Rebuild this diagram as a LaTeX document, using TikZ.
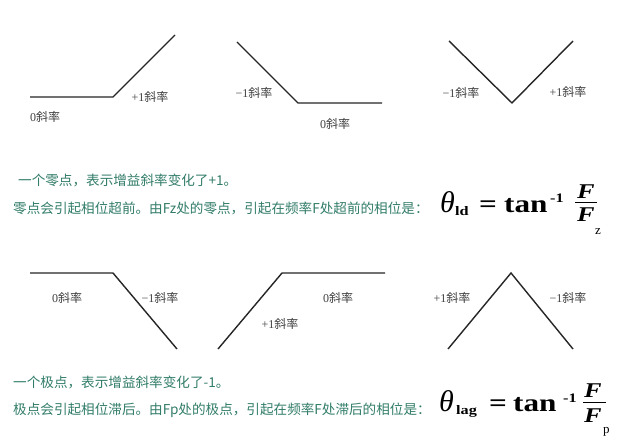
\documentclass[tikz,border=0pt]{standalone}
\usepackage{fontspec}
\setmainfont{Liberation Serif}
\newfontfamily\cjk{Noto Sans CJK SC}
\newfontfamily\eqfont[FakeStretch=1.25]{Liberation Serif}
\definecolor{noteteal}{RGB}{50,125,105}
\newcommand\xl[1]{#1{\cjk 斜率}}
\tikzset{
  curve/.style={line width=1.4pt, black!85},
  slope/.style={font=\fontsize{12}{12}\selectfont, text=black!75, inner sep=0pt},
  note/.style={font=\cjk\fontsize{13.6}{13.6}\selectfont, text=noteteal, anchor=west, inner sep=0pt},
  eqpart/.style={font=\eqfont\bfseries\fontsize{25}{25}\selectfont, anchor=base west, inner sep=0pt},
  eqsmall/.style={font=\eqfont\bfseries\fontsize{13}{13}\selectfont, anchor=base west, inner sep=0pt},
  greek/.style={font=\itshape\fontsize{30}{30}\selectfont, anchor=base west, inner sep=0pt},
  frac/.style={font=\eqfont\bfseries\itshape\fontsize{21}{21}\selectfont, anchor=base west, inner sep=0pt},
  fracsub/.style={font=\fontsize{13}{13}\selectfont, anchor=base west, inner sep=0pt}
}
\begin{document}
\begin{tikzpicture}[x=1pt,y=-1pt]
  \useasboundingbox[fill=white] (0,0) rectangle (640,443);
  % zero: slope goes up by one
  \draw[curve] (30,97) -- (113,97) -- (175,35);
  \node[slope] (z1a) at (45,117) {\xl{0}};
  \node[slope] (z1b) at (150,97) {\xl{+1}};
  \draw[curve] (237,42) -- (298,103) -- (382,103);
  \node[slope] (z2a) at (254,93) {\xl{−1}};
  \node[slope] (z2b) at (335,124) {\xl{0}};
  \draw[curve] (449,41) -- (512,103) -- (573,41);
  \node[slope] (z3a) at (461,93) {\xl{−1}};
  \node[slope] (z3b) at (568,92) {\xl{+1}};
  % zero notes
  \node[note] (zn1) at (18,180) {一个零点，表示增益斜率变化了+1。};
  \node[note] (zn2) at (13,208) {零点会引起相位超前。由Fz处的零点，引起在频率F处超前的相位是：};
  \node[greek] (th1) at (440,213) {θ};
  \node[eqsmall] (ld) at (455,216) {ld};
  \node[eqpart] (eq1) at (479,213) {=};
  \node[eqpart] (tan1) at (504,213) {tan};
  \node[eqsmall] (inv1) at (550,203) {-1};
  \node[frac] (num1) at (577,199) {F};
  \node[frac] (den1) at (577,222) {F};
  \node[fracsub] (fz) at (595,235) {z};
  \draw[line width=1pt] (575,203) -- (597,203);
  % pole: slope goes down by one
  \draw[curve] (30,273) -- (113,273) -- (177,349);
  \node[slope] (p1a) at (67,298) {\xl{0}};
  \node[slope] (p1b) at (160,298) {\xl{−1}};
  \draw[curve] (218,349) -- (282,273) -- (385,273);
  \node[slope] (p2a) at (280,324) {\xl{+1}};
  \node[slope] (p2b) at (338,298) {\xl{0}};
  \draw[curve] (448,349) -- (511,273) -- (573,349);
  \node[slope] (p3a) at (452,298) {\xl{+1}};
  \node[slope] (p3b) at (568,298) {\xl{−1}};
  % pole notes
  \node[note] (pn1) at (13,382) {一个极点，表示增益斜率变化了-1。};
  \node[note] (pn2) at (13,410) {极点会引起相位滞后。由Fp处的极点，引起在频率F处滞后的相位是：};
  \node[greek] (th2) at (439,412) {θ};
  \node[eqsmall] (lag) at (456,414) {lag};
  \node[eqpart] (eq2) at (489,412) {=};
  \node[eqpart] (tan2) at (513,412) {tan};
  \node[eqsmall] (inv2) at (563,403) {-1};
  \node[frac] (num2) at (584,398) {F};
  \node[frac] (den2) at (584,423) {F};
  \node[fracsub] (fp) at (603,434) {p};
  \draw[line width=1pt] (583,403) -- (606,403);
\end{tikzpicture}
\end{document}
